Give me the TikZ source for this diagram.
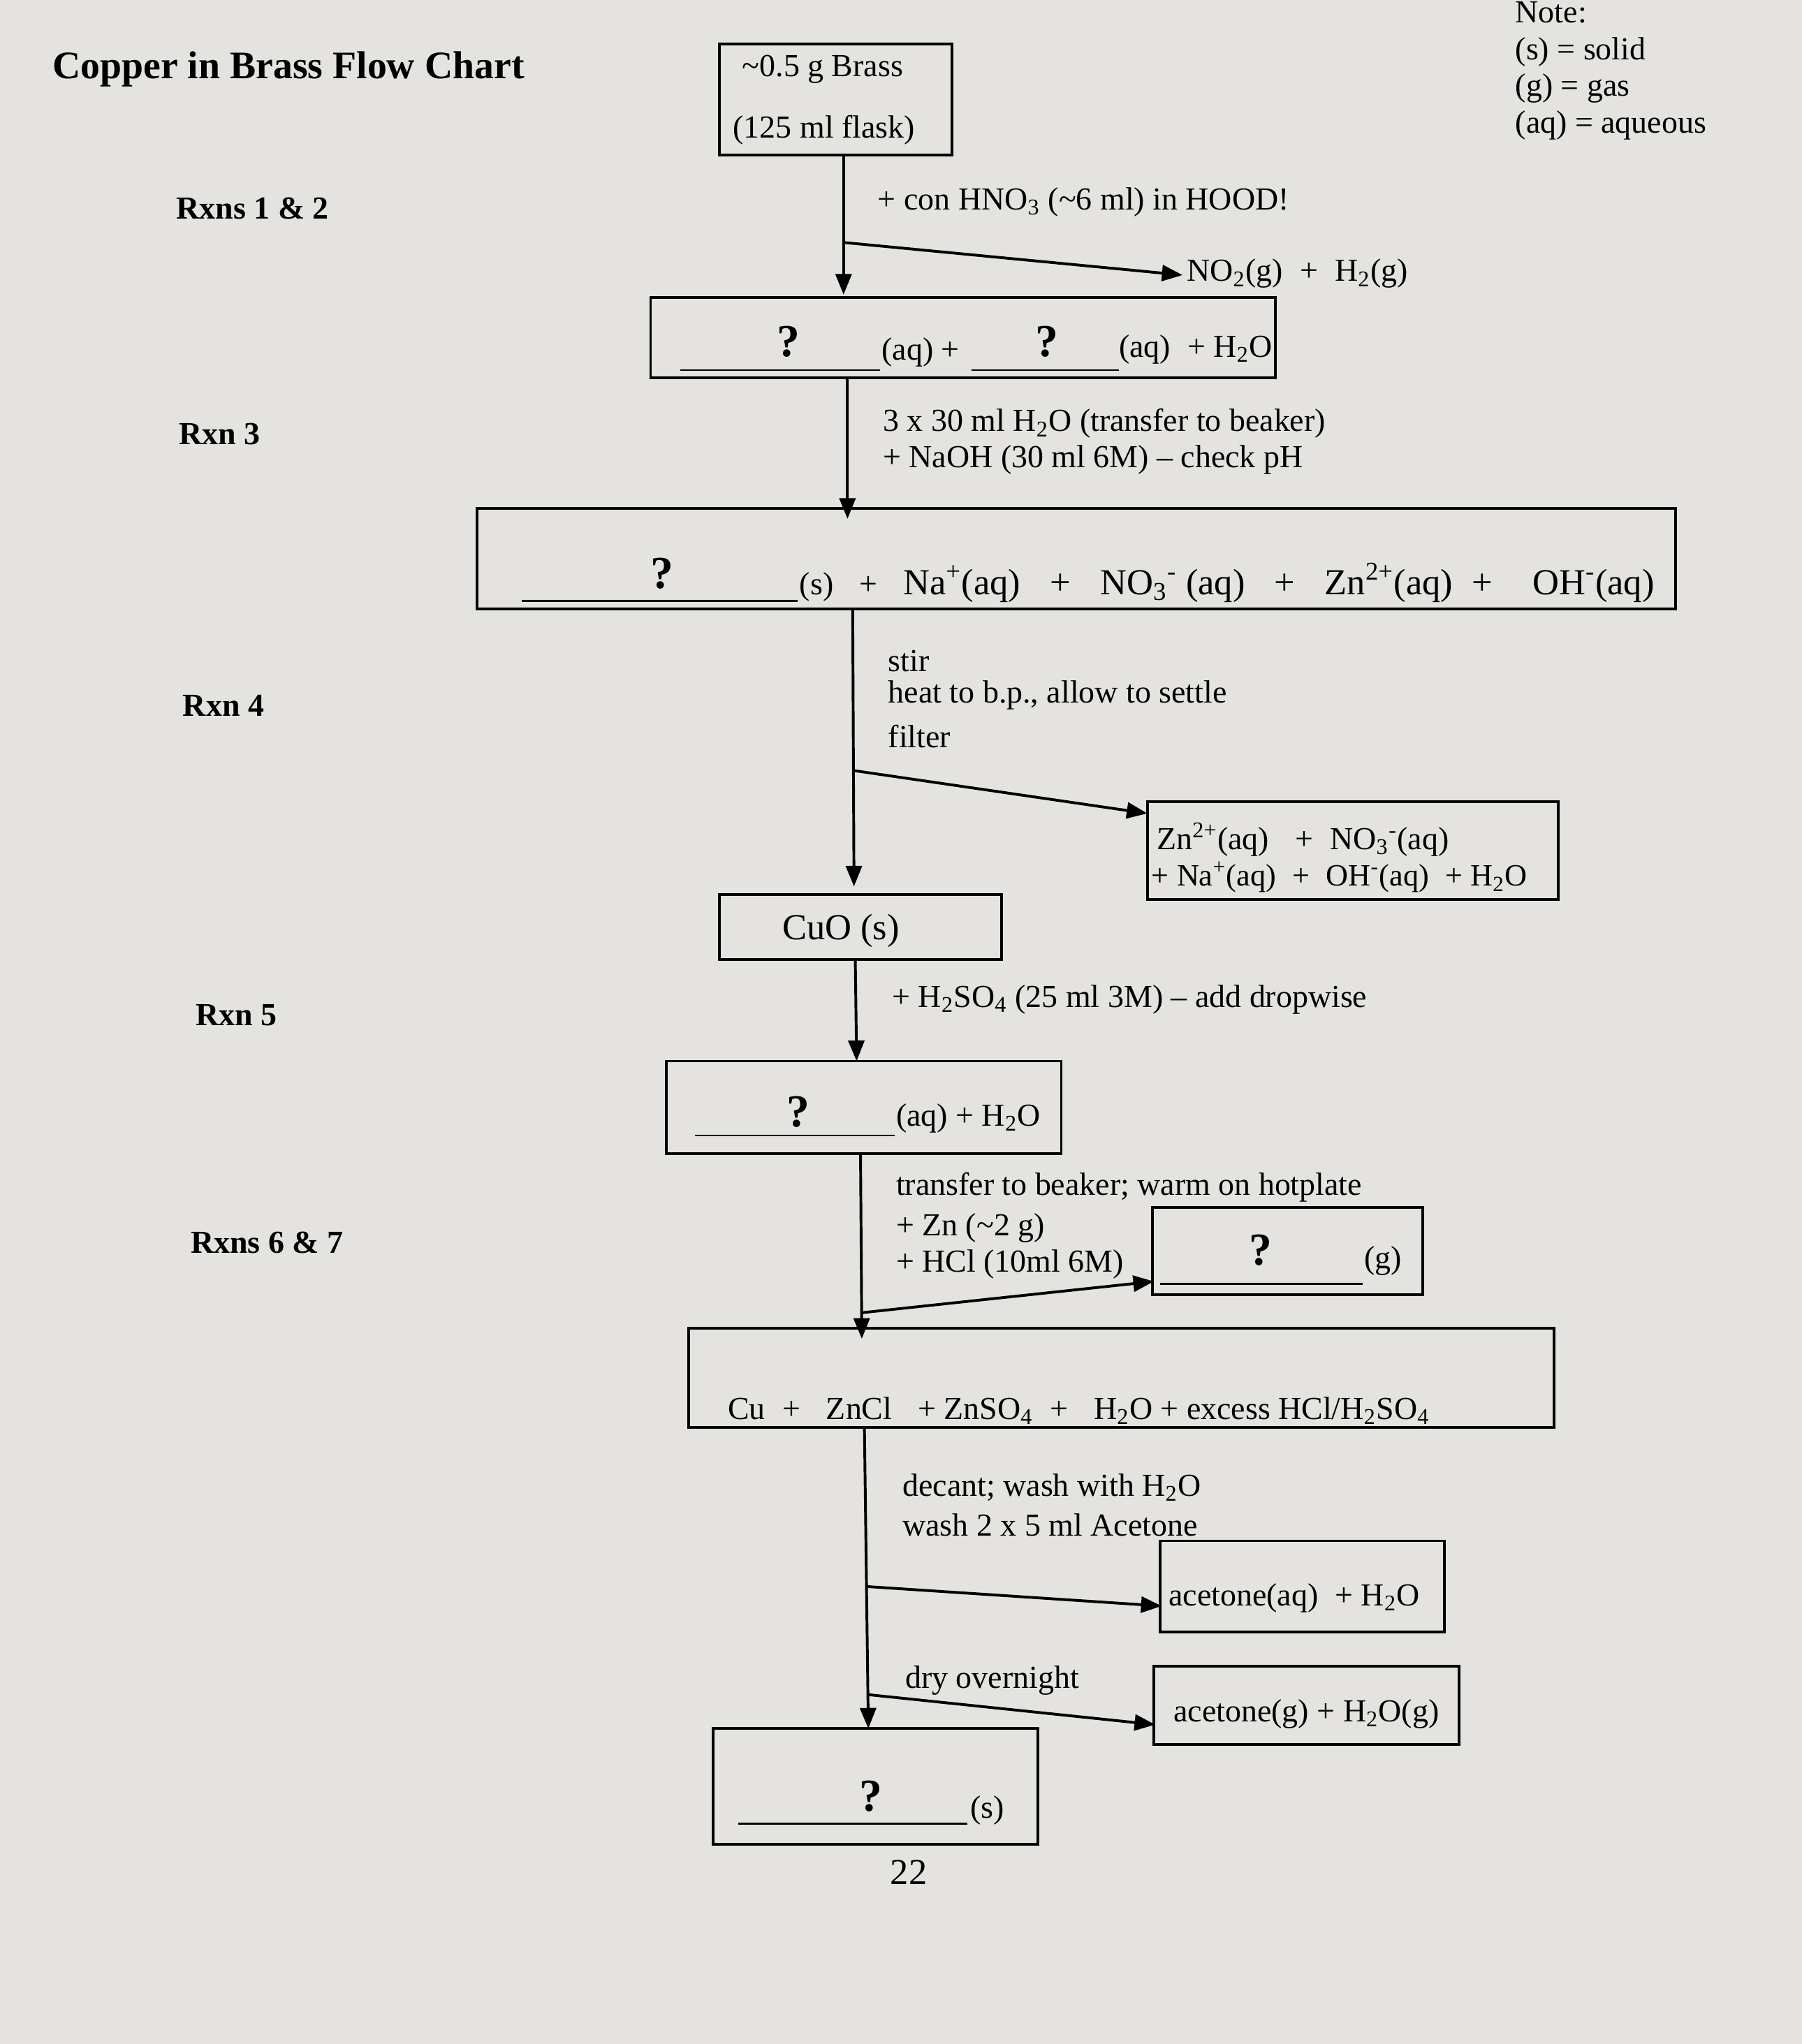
\documentclass[tikz,border=0pt]{standalone}
\usepackage{fontspec}
\setmainfont{Liberation Serif}
\usetikzlibrary{arrows.meta}
\begin{document}
\begin{tikzpicture}[x=0.02cm,y=-0.02cm,
  every node/.style={font=\fontsize{14}{16}\selectfont,inner sep=0pt},
  bx/.style={draw,line width=1.2pt},
  ln/.style={line width=1.2pt},
  ar/.style={line width=1.2pt,-{Triangle[length=9pt,width=7pt]}},
  lt/.style={anchor=west},
  rxn/.style={anchor=west,font=\fontsize{14}{16}\selectfont\bfseries},
  q/.style={font=\fontsize{20}{22}\selectfont\bfseries},
  ul/.style={line width=0.8pt}]
\fill[fill={rgb,255:red,228;green,227;blue,223}] (0,0) rectangle (1382,1568);
\useasboundingbox (0,0) rectangle (1382,1568);
\node[anchor=west,font=\fontsize{17}{19}\selectfont\bfseries] (title) at (40,53) {Copper in Brass Flow Chart};
\node[anchor=north west,align=left,font=\fontsize{14}{16}\selectfont] (note) at (1162,1) {Note:\\(s) = solid\\(g) = gas\\(aq) = aqueous};
\node[rxn] (r1) at (135,160) {Rxns 1 \& 2};
\node[rxn] (r3) at (137,333) {Rxn 3};
\node[rxn] (r4) at (140,541) {Rxn 4};
\node[rxn] (r5) at (150,779) {Rxn 5};
\node[rxn] (r6) at (146,953) {Rxns 6 \& 7};
% box1
\draw[bx] (552,34) rectangle (730,119);
\node (b1a) at (631,53) {\textasciitilde0.5 g Brass};
\node (b1b) at (632,100) {(125 ml flask)};
\coordinate (c1t) at (647,119); \coordinate (c1b) at (647,226);
\draw[ar] (c1t) -- (c1b);
\node[lt] (l1) at (673,155) {+ con HNO\textsubscript{3} (\textasciitilde6 ml) in HOOD!};
\coordinate (c1s) at (647,186); \coordinate (c1e) at (907,211);
\draw[ar] (c1s) -- (c1e);
\node[lt] (g1) at (910,210) {NO\textsubscript{2}(g) \;+\; H\textsubscript{2}(g)};
% box2
\draw[bx] (499,228) rectangle (978,290);
\draw[ul] (522,284) -- (675,284); \node[q] (q2a) at (605,262) {?};
\node[lt] (t2a) at (676,270) {(aq) +};
\draw[ul] (745,284) -- (858,284); \node[q] (q2b) at (803,262) {?};
\node[lt] (t2b) at (858,268) {(aq) \;+ H\textsubscript{2}O};
\coordinate (c2t) at (650,290); \coordinate (c2b) at (650,398);
\draw[ar] (c2t) -- (c2b);
\node[lt] (l2a) at (677,325) {3 x 30 ml H\textsubscript{2}O (transfer to beaker)};
\node[lt] (l2b) at (677,353) {+ NaOH (30 ml 6M) -- check pH};
% box3
\draw[bx] (366,390) rectangle (1285,467);
\draw[ul] (400,461) -- (612,461); \node[q] (q3) at (508,440) {?};
\node[lt] (t3) at (613,447) {(s) \;\;+\;\; \fontsize{16}{18}\selectfont Na\textsuperscript{+}(aq) \;\;+\;\; NO\textsubscript{3}\textsuperscript{-} (aq) \;\;+\;\; Zn\textsuperscript{2+}(aq) \;+\;\;\; OH\textsuperscript{-}(aq)};
\coordinate (c3t) at (654,467); \coordinate (c3b) at (655,680);
\draw[ar] (c3t) -- (c3b);
\node[lt] (l3a) at (681,507) {stir};
\node[lt] (l3b) at (681,533) {heat to b.p., allow to settle};
\node[lt] (l3c) at (681,565) {filter};
\coordinate (c3s) at (654,591); \coordinate (c3e) at (880,624);
\draw[ar] (c3s) -- (c3e);
\draw[bx] (880,615) rectangle (1195,690);
\node[lt] (t4a) at (887,644) {Zn\textsuperscript{2+}(aq) \;\;+\; NO\textsubscript{3}\textsuperscript{-}(aq)};
\node[lt,font=\fontsize{13.5}{15}\selectfont] (t4b) at (883,673) {+ Na\textsuperscript{+}(aq) \;+\; OH\textsuperscript{-}(aq) \;+ H\textsubscript{2}O};
% CuO
\draw[bx] (552,686) rectangle (768,736);
\node (cuo) at (645,714) {\fontsize{16}{18}\selectfont CuO (s)};
\coordinate (c4t) at (656,736); \coordinate (c4b) at (657,814);
\draw[ar] (c4t) -- (c4b);
\node[lt] (l4) at (684,767) {+ H\textsubscript{2}SO\textsubscript{4} (25 ml 3M) -- add dropwise};
% box5
\draw[bx] (511,814) rectangle (814,885);
\draw[ul] (533,871) -- (686,871); \node[q] (q5) at (612,853) {?};
\node[lt] (t5) at (687,858) {(aq) + H\textsubscript{2}O};
\coordinate (c5t) at (660,885); \coordinate (c5b) at (661,1027);
\draw[ar] (c5t) -- (c5b);
\node[lt] (l5a) at (687,911) {transfer to beaker; warm on hotplate};
\node[lt] (l5b) at (687,942) {+ Zn (\textasciitilde2 g)};
\node[lt] (l5c) at (687,970) {+ HCl (10ml 6M)};
\coordinate (c5s) at (661,1007); \coordinate (c5e) at (885,983);
\draw[ar] (c5s) -- (c5e);
\draw[bx] (884,926) rectangle (1091,993);
\draw[ul] (890,985) -- (1045,985); \node[q] (q6) at (967,959) {?};
\node[lt] (t6) at (1046,967) {(g)};
% box7
\draw[bx] (528,1019) rectangle (1192,1095);
\node[lt] (t7) at (558,1082) {Cu \;+\;\; ZnCl \;\;+ ZnSO\textsubscript{4} \;+\;\; H\textsubscript{2}O + excess HCl/H\textsubscript{2}SO\textsubscript{4}};
\coordinate (c7t) at (663,1095); \coordinate (c7b) at (666,1326);
\draw[ar] (c7t) -- (c7b);
\node[lt] (l7a) at (692,1141) {decant; wash with H\textsubscript{2}O};
\node[lt] (l7b) at (692,1170) {wash 2 x 5 ml Acetone};
\coordinate (c7s) at (664,1217); \coordinate (c7e) at (891,1232);
\draw[ar] (c7s) -- (c7e);
\draw[bx] (890,1182) rectangle (1108,1252);
\node[lt] (t8) at (896,1226) {acetone(aq) \;+ H\textsubscript{2}O};
\node[lt] (l7c) at (694,1289) {dry overnight};
\coordinate (c7u) at (666,1300); \coordinate (c7v) at (886,1323);
\draw[ar] (c7u) -- (c7v);
\draw[bx] (885,1278) rectangle (1119,1338);
\node (t9) at (1002,1315) {acetone(g) + H\textsubscript{2}O(g)};
% box10
\draw[bx] (547,1326) rectangle (796,1415);
\draw[ul] (566,1399) -- (742,1399); \node[q] (q10) at (668,1378) {?};
\node[lt] (t10) at (744,1389) {(s)};
\node (pg) at (697,1436) {\fontsize{16}{18}\selectfont 22};
\end{tikzpicture}
\end{document}
